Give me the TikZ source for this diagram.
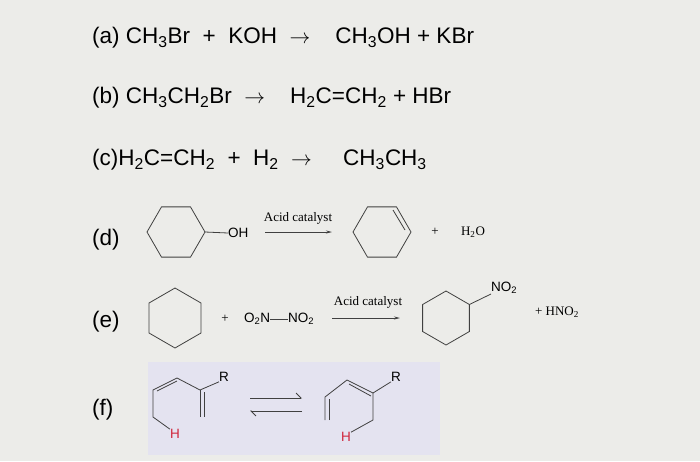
\documentclass[tikz,border=0pt]{standalone}
\usepackage{fontspec}
\setmainfont{Liberation Sans}
\newfontfamily\serifx{Liberation Serif}
\usetikzlibrary{arrows.meta}
\definecolor{bg}{HTML}{ECECE9}
\definecolor{boxc}{HTML}{E4E3F0}
\definecolor{hred}{HTML}{D0243A}
\newcommand{\sbs}[1]{\textsubscript{#1}}
\begin{document}
\begin{tikzpicture}[x=1pt,y=-1pt,
  big/.style={font=\fontsize{22.5}{26}\selectfont,anchor=west,inner sep=0},
  sm/.style={font=\fontsize{13.5}{15}\selectfont,inner sep=0},
  ser/.style={font=\serifx\fontsize{13}{15}\selectfont,inner sep=0},
  bond/.style={line width=0.8pt,color=black!75},
  rarrow/.style={line width=0.8pt,color=black!75,-{Stealth[length=6pt,width=3pt]}}]
\fill[bg] (0,0) rectangle (700,461);
\useasboundingbox (0,0) rectangle (700,461);
\node[big] (a) at (92,38) {(a) CH\sbs{3}Br\ \ +\ \ KOH\ \ $\rightarrow$\ \ \ \ CH\sbs{3}OH + KBr};
\node[big] (b) at (92,98) {(b) CH\sbs{3}CH\sbs{2}Br\ \ $\rightarrow$\ \ \ \ H\sbs{2}C=CH\sbs{2} + HBr};
\node[big] (c) at (92,160) {(c)H\sbs{2}C=CH\sbs{2}\ \ +\ \ H\sbs{2}\ \ $\rightarrow$\ \ \ \ \ CH\sbs{3}CH\sbs{3}};
\node[big] (d) at (92,240) {(d)};
\node[big] (e) at (92,322) {(e)};
\node[big] (f) at (92,410) {(f)};
% (d)
\draw[bond] (176,232) ++(0:29) -- ++(120:29) -- ++(180:29) -- ++(240:29) -- ++(300:29) -- ++(0:29) -- cycle;
\coordinate (d1) at (205,232);
\node[sm,anchor=west] (oh) at (228,233) {OH};
\draw[bond] (d1) -- (oh.west);
\coordinate (da1) at (265,232);
\coordinate (da2) at (332,232);
\draw[rarrow] (da1) -- (da2);
\node[ser] (ac1) at (298,218) {Acid catalyst};
\draw[bond] (382,232) ++(0:29) -- ++(120:29) -- ++(180:29) -- ++(240:29) -- ++(300:29) -- ++(0:29) -- cycle;
\draw[bond] (405,230) -- (393,210);
\node[ser] (p1) at (435,232) {+};
\node[ser] (h2o) at (473,232) {H\sbs{2}O};
% (e)
\draw[bond] (175,318) ++(-90:30) -- ++(30:30) -- ++(90:30) -- ++(150:30) -- ++(210:30) -- ++(270:30) -- cycle;
\node[ser] (p2) at (225,319) {+};
\node[sm,anchor=west] (o2n) at (244,319) {O\sbs{2}N};
\node[sm,anchor=west] (no2a) at (288,319) {NO\sbs{2}};
\draw[bond] (o2n.east) -- (no2a.west);
\coordinate (ea1) at (332,318);
\coordinate (ea2) at (400,318);
\draw[rarrow] (ea1) -- (ea2);
\node[ser] (ac2) at (368,302) {Acid catalyst};
\draw[bond] (446,318) ++(-90:27) -- ++(30:27) -- ++(90:27) -- ++(150:27) -- ++(210:27) -- ++(270:27) -- cycle;
\coordinate (e3) at (469.4,304.5);
\node[sm,anchor=west] (no2b) at (491,288) {NO\sbs{2}};
\draw[bond] (e3) -- (no2b.south west);
\node[ser] (hno2) at (557,312) {+ HNO\sbs{2}};
% (f)
\fill[boxc] (148,362) rectangle (440,455);
\coordinate (L1) at (153,417); \coordinate (L2) at (153,390); \coordinate (L3) at (177,378);
\coordinate (L4) at (200,390); \coordinate (L5) at (200,417);
\node[sm,color=hred] (H1) at (175,434) {H};
\node[sm] (R1) at (224,377) {R};
\draw[bond] (H1.north west) -- (L1) -- (L2) -- (L3) -- (L4) -- (R1.south west);
\draw[bond] (L4) -- (L5);
\draw[bond] (157,391) -- (177,381);
\draw[bond] (204,392) -- (204,417);
\coordinate (fa1) at (250,398); \coordinate (fa2) at (302,398);
\draw[bond,-{Straight Barb[left,length=5pt]}] (fa1) -- (fa2);
\coordinate (fb1) at (302,411); \coordinate (fb2) at (250,411);
\draw[bond,-{Straight Barb[left,length=5pt]}] (fb1) -- (fb2);
\coordinate (M1) at (325,420); \coordinate (M2) at (325,397); \coordinate (M3) at (347,380);
\coordinate (M4) at (373,393); \coordinate (M5) at (373,420);
\node[sm] (R2) at (396,377) {R};
\node[sm,color=hred] (H2) at (346,437) {H};
\draw[bond] (M1) -- (M2) -- (M3) -- (M4) -- (R2.south west);
\draw[bond] (M4) -- (M5) -- (H2.north east);
\draw[bond] (329,420) -- (329,399);
\draw[bond] (349,384) -- (371,396);
\end{tikzpicture}
\end{document}
